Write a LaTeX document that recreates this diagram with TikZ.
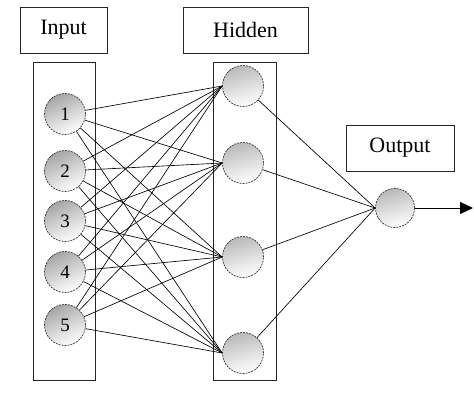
\documentclass[tikz,border=0pt]{standalone}
\usepackage{fontspec}
\setmainfont{Liberation Serif}
\usetikzlibrary{arrows.meta}
\begin{document}
\begin{tikzpicture}[x=1pt,y=-1pt,
  lbl/.style={draw=black!85, line width=0.8pt, minimum height=46pt, inner sep=0pt, font=\fontsize{22}{26}\selectfont},
  col/.style={draw=black!85, line width=0.9pt, minimum height=318pt, inner sep=0pt},
  neuron/.style={circle, draw=black!80, dash pattern=on 2pt off 1pt, line width=0.7pt, minimum size=41pt, inner sep=0pt, font=\fontsize{19}{21}\selectfont},
  inshade/.style={top color=gray!70, bottom color=white, shading angle=25},
  hidshade/.style={top color=gray!55, bottom color=white, shading angle=15},
  conn/.style={line width=0.65pt, black}]
\useasboundingbox (0,0) rectangle (474,411);
% label boxes
\node[lbl, minimum width=87pt] (lin) at (63.5,30) {Input};
\node[lbl, minimum width=125pt] (lhid) at (245.5,30) {Hidden};
\node[lbl, minimum width=108pt] (lout) at (400,148) {Output};
% columns
\node[col, minimum width=62pt] (icol) at (64,221) {};
\node[col, minimum width=63pt] (hcol) at (244.5,221) {};
% input neurons
\node[neuron, inshade] (i1) at (65,114) {1};
\node[neuron, inshade] (i2) at (65,171) {2};
\node[neuron, inshade] (i3) at (65,221) {3};
\node[neuron, inshade] (i4) at (65,272) {4};
\node[neuron, inshade] (i5) at (65,325) {5};
% hidden neurons
\node[neuron, hidshade] (h1) at (243,86) {};
\node[neuron, hidshade] (h2) at (243,163) {};
\node[neuron, hidshade] (h3) at (243,257) {};
\node[neuron, hidshade] (h4) at (243,353) {};
% output neuron
\node[neuron, hidshade, minimum size=39pt] (o) at (395,208) {};
\coordinate (oend) at (473,208);
% connections
\foreach \i in {1,...,5}{
  \foreach \h in {1,...,4}{
    \draw[conn] (i\i) -- (h\h.west);
  }
}
\foreach \h in {1,...,4}{
  \draw[conn] (h\h) -- (o.west);
}
\draw[line width=0.8pt, -{Triangle[length=13pt,width=12pt]}] (o.east) -- (oend);
\end{tikzpicture}
\end{document}
